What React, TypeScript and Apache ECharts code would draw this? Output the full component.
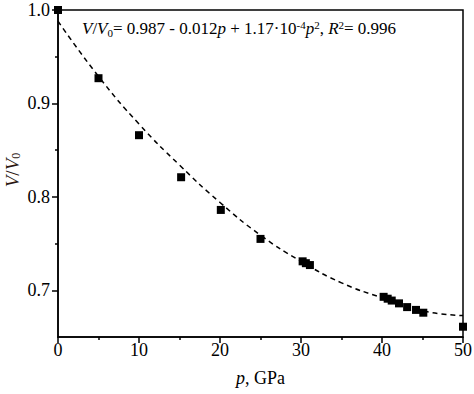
import React, { useEffect, useRef } from "react";
import * as echarts from "echarts";

const pressure = [0, 5, 10, 15.2, 20.1, 25, 30.2, 30.6, 31.1, 40.2, 40.7, 41.2, 42.1, 43.1, 44.2, 45.1, 50];
const volume = [1.0, 0.927, 0.866, 0.821, 0.786, 0.755, 0.731, 0.729, 0.727, 0.693, 0.691, 0.689, 0.686, 0.682, 0.679, 0.676, 0.661];

const fitPressure = [0, 5, 10, 15, 20, 25, 30, 35, 40, 45, 50];
const fitVolume = [0.988, 0.929, 0.878, 0.834, 0.794, 0.759, 0.731, 0.708, 0.692, 0.678, 0.673];

const yMajorTicks = [0.7, 0.8, 0.9, 1.0];
const yMinorTicks = [0.75, 0.85, 0.95];

const FONT = "Liberation Serif";

export default function App() {
  const ref = useRef<HTMLDivElement>(null);
  useEffect(() => {
    if (!ref.current) return;
    const chart = echarts.init(ref.current, null, { renderer: "svg" });
    const pts = pressure.map((p, i) => [p, volume[i]]);
    const fit = fitPressure.map((p, i) => [p, fitVolume[i]]);
    chart.setOption({
      animation: false,
      backgroundColor: "#fff",
      grid: {
        left: 58,
        right: 11,
        top: 10,
        bottom: 57,
        containLabel: false,
        outerBoundsMode: "none",
        show: true,
        borderColor: "#000",
        borderWidth: 1.5,
        backgroundColor: "transparent",
      },
      xAxis: {
        type: "value",
        min: 0,
        max: 50,
        interval: 10,
        splitLine: { show: false },
        axisLine: { show: true, onZero: false, lineStyle: { color: "#000", width: 1.5 } },
        axisTick: { show: true, inside: false, length: 6, lineStyle: { color: "#000", width: 1.5 } },
        minorTick: { show: true, splitNumber: 2, length: 3, lineStyle: { color: "#000", width: 1.5 } },
        axisLabel: { color: "#000", fontFamily: FONT, fontSize: 18, margin: 4 },
        name: "{i|p}, GPa",
        nameLocation: "middle",
        nameGap: 32,
        nameTextStyle: {
          color: "#000",
          fontFamily: FONT,
          fontSize: 18,
          rich: { i: { fontStyle: "italic", fontFamily: FONT, fontSize: 18, color: "#000" } },
        },
      },
      yAxis: [
        {
          type: "value",
          min: 0.65,
          max: 1.0,
          splitLine: { show: false },
          axisLine: { show: true, onZero: false, lineStyle: { color: "#000", width: 1.5 } },
          axisTick: { show: true, inside: false, length: 6, customValues: yMajorTicks, lineStyle: { color: "#000", width: 1.5 } },
          axisLabel: {
            color: "#000",
            fontFamily: FONT,
            fontSize: 18,
            margin: 8,
            customValues: yMajorTicks,
            formatter: (v: number) => v.toFixed(1),
          },
        },
        {
          type: "value",
          min: 0.65,
          max: 1.0,
          position: "left",
          splitLine: { show: false },
          axisLine: { show: false },
          axisLabel: { show: false },
          axisTick: { show: true, inside: false, length: 3, customValues: yMinorTicks, lineStyle: { color: "#000", width: 1.5 } },
        },
      ],
      graphic: [
        {
          type: "text",
          x: 12,
          y: 170,
          rotation: Math.PI / 2,
          style: {
            text: "{i|V}/{i|V}{sub|0}",
            align: "center",
            verticalAlign: "middle",
            fontFamily: FONT,
            fontSize: 19,
            fill: "#2a1510",
            rich: {
              i: { fontStyle: "italic", fontFamily: FONT, fontSize: 19, fill: "#2a1510" },
              sub: { fontFamily: FONT, fontSize: 12, fill: "#2a1510", verticalAlign: "bottom", padding: [6, 0, 0, 0] },
            },
          },
        },
        {
          type: "text",
          left: 82,
          top: 19,
          style: {
            text: "{i|V}/{i|V}{sub|0}= 0.987 - 0.012{i|p} + 1.17·10{sup|-4}{i|p}{sup|2}, {i|R}{sup|2}= 0.996",
            fontFamily: FONT,
            fontSize: 17,
            fill: "#000",
            rich: {
              i: { fontStyle: "italic", fontFamily: FONT, fontSize: 17, fill: "#000" },
              sub: { fontFamily: FONT, fontSize: 11, fill: "#000", verticalAlign: "bottom", padding: [8, 0, 0, 0] },
              sup: { fontFamily: FONT, fontSize: 11, fill: "#000", verticalAlign: "top", padding: [0, 0, 8, 0] },
            },
          },
        },
      ],
      series: [
        {
          type: "line",
          data: fit,
          smooth: true,
          symbol: "none",
          lineStyle: { color: "#000", width: 1.5, type: [5, 4] },
          z: 1,
        },
        {
          type: "scatter",
          data: pts,
          symbol: "rect",
          symbolSize: 8,
          itemStyle: { color: "#000", opacity: 1 },
          z: 2,
        },
      ],
    });
    return () => chart.dispose();
  }, []);
  return <div ref={ref} style={{ position: "absolute", left: 0, top: 0, width: 474, height: 394 }} />;
}
